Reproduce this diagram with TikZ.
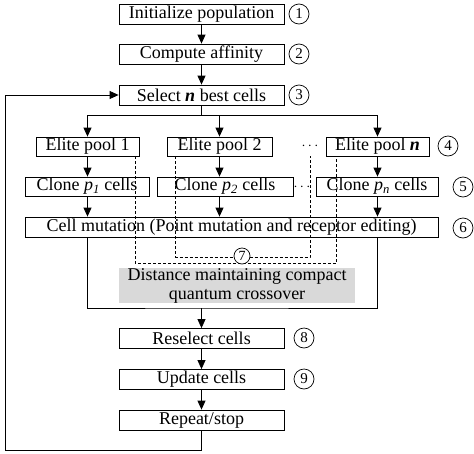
\documentclass[tikz,border=0pt]{standalone}
\usepackage{fontspec}
\setmainfont{Liberation Serif}
\usetikzlibrary{arrows.meta}
\definecolor{boxgray}{RGB}{217,217,217}
\begin{document}
\begin{tikzpicture}[x=1pt,y=-1pt,
  box/.style={draw, line width=0.8pt, inner sep=0pt, minimum height=20pt, font=\fontsize{18}{19}\selectfont},
  num/.style={draw, circle, line width=0.7pt, minimum size=20pt, inner sep=0pt, font=\fontsize{15}{15}\selectfont},
  arr/.style={line width=0.8pt, -{Triangle[length=9pt,width=8pt]}},
  ln/.style={line width=0.8pt},
  dsh/.style={line width=0.7pt, dash pattern=on 3pt off 2pt},
  dots/.style={inner sep=0pt, font=\fontsize{14}{14}\selectfont},
]
\useasboundingbox (0,0) rectangle (474,453);
% main column
\node[box, minimum width=165pt] (b1) at (201.5,14) {Initialize population};
\node[box, minimum width=165pt] (b2) at (201.5,54) {Compute affinity};
\node[box, minimum width=165pt] (b3) at (201.5,95) {Select \textbf{\textit{n}} best cells};
% elite pools
\node[box, minimum width=103pt, minimum height=19pt] (e1) at (87.5,146.5) {Elite pool 1};
\node[box, minimum width=105pt, minimum height=19pt] (e2) at (219.5,146.5) {Elite pool 2};
\node[box, minimum width=103pt, minimum height=19pt] (en) at (377.5,146.5) {Elite pool \textbf{\textit{n}}};
\node[dots] (dt1) at (310,146) {$\cdots$};
% clones
\node[box, minimum width=124pt, minimum height=19pt] (c1) at (87,186.5) {Clone \textit{p}\textsubscript{\textit{1}} cells};
\node[box, minimum width=136pt, minimum height=19pt] (c2) at (225,186.5) {Clone \textit{p}\textsubscript{\textit{2}} cells};
\node[box, minimum width=122pt, minimum height=19pt] (cn) at (377,186.5) {Clone \textit{p}\textsubscript{\textit{n}} cells};
\node[dots] (dt2) at (302,187) {$\cdots$};
% mutation
\node[box, minimum width=413pt] (cm) at (231.5,227) {Cell mutation (Point mutation and receptor editing)};
% crossover
\node[fill=boxgray, minimum width=236pt, minimum height=35pt, inner sep=0pt, align=center, font=\fontsize{18}{19}\selectfont] (gx) at (237,285.5) {Distance maintaining compact\\quantum crossover};
% lower column
\node[box, minimum width=165pt] (rs) at (201.5,338.5) {Reselect cells};
\node[box, minimum width=165pt] (up) at (201.5,379.5) {Update cells};
\node[box, minimum width=165pt] (rp) at (201.5,420) {Repeat/stop};
% numbers
\node[num] (n1) at (299,14) {1};
\node[num] (n2) at (299,54) {2};
\node[num] (n3) at (299,95) {3};
\node[num] (n4) at (448,146) {4};
\node[num] (n5) at (463,187) {5};
\node[num] (n6) at (463,228) {6};
\node[num] (n8) at (304,338) {8};
\node[num] (n9) at (304,379) {9};
% connectors
\draw[arr] (b1) -- (b2);
\draw[arr] (b2) -- (b3);
\coordinate (fan) at (201.5,115);
\draw[ln] (b3.south) -- (fan);
\draw[ln] (e1.center |- fan) -- (en.center |- fan);
\draw[arr] (e1.center |- fan) -- (e1.north);
\draw[arr] (e2.center |- fan) -- (e2.north);
\draw[arr] (en.center |- fan) -- (en.north);
\draw[arr] (e1.south) -- (e1.south |- c1.north);
\draw[arr] (e2.south) -- (e2.south |- c2.north);
\draw[arr] (en.south) -- (en.south |- cn.north);
\draw[arr] (e1.center |- c1.south) -- (e1.center |- cm.north);
\draw[arr] (e2.center |- c2.south) -- (e2.center |- cm.north);
\draw[arr] (en.center |- cn.south) -- (en.center |- cm.north);
% container
\coordinate (cb) at (201.5,308);
\draw[ln] (e1.center |- cm.south) |- (cb) -| (en.center |- cm.south);
\draw[arr] (cb) -- (rs);
% dashed
\draw[dsh] ([xshift=-4pt]e1.south east) -- ++(0,107) -| ([xshift=11pt]en.south west);
\draw[dsh] ([xshift=9pt]e2.south west) -- ++(0,101) -| (dt1.center |- e1.south);
\node[num, fill=white, minimum size=16pt, font=\fontsize{14}{14}\selectfont] (n7) at (242,256) {7};
% lower
\draw[arr] (rs) -- (up);
\draw[arr] (up) -- (rp);
\coordinate (lp) at (5,450);
\draw[arr] (rp.south) |- (lp) |- (b3.west);
\end{tikzpicture}
\end{document}
